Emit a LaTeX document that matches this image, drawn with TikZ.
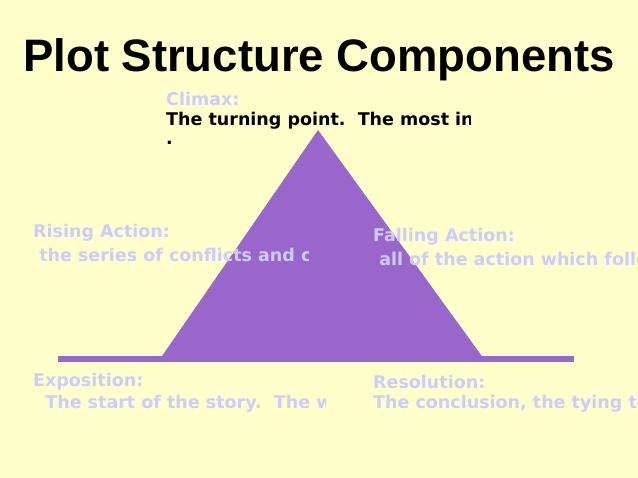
\documentclass[tikz,border=0pt]{standalone}
\usepackage{fontspec}
\setmainfont{DejaVu Sans}
\newfontfamily\titlefont{Liberation Sans}
\definecolor{bg}{HTML}{FFFFCC}
\definecolor{purp}{HTML}{9966CC}
\definecolor{lav}{HTML}{CCCCFF}
\begin{document}
\begin{tikzpicture}[x=1pt,y=-1pt,
  lbl/.style={anchor=west,inner sep=0pt,text=lav,font=\bfseries\fontsize{17.5}{20}\selectfont},
  blk/.style={anchor=west,inner sep=0pt,text=black,font=\bfseries\fontsize{17.5}{20}\selectfont}]
\fill[bg] (0,0) rectangle (638,478);
\useasboundingbox (0,0) rectangle (638,478);
\node[font=\titlefont\bfseries\fontsize{45.5}{50}\selectfont,inner sep=0pt] (title) at (319,60) {Plot Structure Components};
\draw[purp,line width=6pt] (58,359) -- (574,359);
\fill[purp] (318,130) -- (484,359) -- (160,359) -- cycle;
\node[lbl] (climax) at (166,99) {Climax:};
\begin{scope}
\clip (160,108) rectangle (470,155);
\node[blk] (climaxtext) at (166,121) {The turning point.\ \ The most intense};
\node[blk] (dot) at (166,143) {.};
\end{scope}
\node[lbl] (rising) at (33,233) {Rising Action:};
\begin{scope}
\clip (30,243) rectangle (308,270);
\node[lbl] (risingtext) at (33,255) {\ the series of conflicts and crisis};
\end{scope}
\node[lbl] (falling) at (373,237) {Falling Action:};
\begin{scope}
\clip (370,247) rectangle (638,275);
\node[lbl] (fallingtext) at (373,259) {\ all of the action which follows};
\end{scope}
\node[lbl] (expo) at (33,382) {Exposition:};
\begin{scope}
\clip (30,392) rectangle (325,420);
\node[lbl] (expotext) at (33,404) {\ \ The start of the story.\ \ The way};
\end{scope}
\node[lbl] (resol) at (373,382) {Resolution:};
\begin{scope}
\clip (370,392) rectangle (638,420);
\node[lbl] (resoltext) at (373,404) {The conclusion, the tying together};
\end{scope}
\end{tikzpicture}
\end{document}
